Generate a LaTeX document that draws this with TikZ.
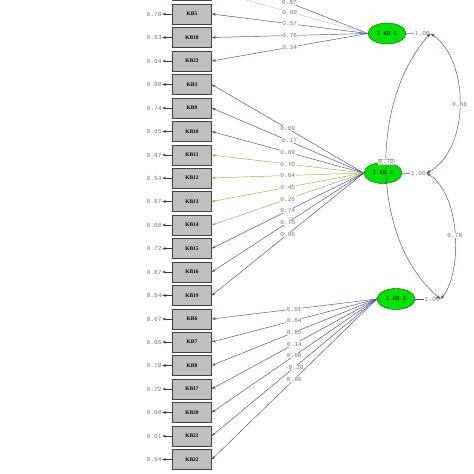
\documentclass[tikz,border=0pt]{standalone}
\usepackage{fontspec}
\usepackage{xcolor}
\usepackage{tikz}
\newfontfamily\valfont{Liberation Mono}
\newfontfamily\boxfont{Liberation Serif}
\usetikzlibrary{arrows.meta, positioning, shapes.geometric}
\definecolor{pathblue}{RGB}{70,70,140}
\definecolor{patholive}{RGB}{165,165,70}
\definecolor{latgreen}{RGB}{0,225,0}

\begin{document}
\begin{tikzpicture}[x=1pt, y=-1pt, every node/.style={inner sep=0.5pt},
  obs/.style={draw=black!75, fill=black!25, rectangle, minimum width=39pt, minimum height=20pt, font=\boxfont\bfseries\fontsize{5.5}{6}\selectfont},
  lat/.style={draw=green!35!black, fill=latgreen, ellipse, minimum width=38pt, minimum height=21pt, inner sep=0pt, font=\valfont\fontsize{5.6}{6}\selectfont},
  val/.style={font=\valfont\fontsize{6.2}{7}\selectfont, text=black!55},
  lbl/.style={val, fill=white, midway},
  load/.style={draw=pathblue, line width=0.45pt, -{Stealth[length=4pt, width=2.6pt]}},
  err/.style={draw=pathblue!70!black, line width=0.6pt, -{Stealth[length=3.5pt, width=2.6pt]}},
  cov/.style={draw=pathblue, line width=0.45pt, {Stealth[length=4.5pt, width=3pt]}-{Stealth[length=4.5pt, width=3pt]}}]
  \useasboundingbox (0,0) rectangle (474,474);
  \clip (0,0) rectangle (474,474);

  % observed variables
  \node[obs] (kbu) at (192,-9.4) {};
  \node[obs] (kb5) at (192,14) {KB5};
  \node[obs] (kb18) at (192,37.5) {KB18};
  \node[obs] (kb23) at (192,61) {KB23};
  \node[obs] (kb3) at (192,84.5) {KB3};
  \node[obs] (kb9) at (192,108) {KB9};
  \node[obs] (kb10) at (192,131.5) {KB10};
  \node[obs] (kb11) at (192,155) {KB11};
  \node[obs] (kb12) at (192,178) {KB12};
  \node[obs] (kb13) at (192,201.5) {KB13};
  \node[obs] (kb14) at (192,225) {KB14};
  \node[obs] (kb15) at (192,248.5) {KB15};
  \node[obs] (kb16) at (192,272) {KB16};
  \node[obs] (kb19) at (192,295.5) {KB19};
  \node[obs] (kb6) at (192,319) {KB6};
  \node[obs] (kb7) at (192,342) {KB7};
  \node[obs] (kb8) at (192,365.5) {KB8};
  \node[obs] (kb17) at (192,389) {KB17};
  \node[obs] (kb20) at (192,412.5) {KB20};
  \node[obs] (kb21) at (192,436) {KB21};
  \node[obs] (kb22) at (192,459.5) {KB22};
  \coordinate (kbv) at (211,-28);

  % error variances
  \node[val, left=10pt of kb5] (e5) {0.78};
  \node[val, left=10pt of kb18] (e18) {0.83};
  \node[val, left=10pt of kb23] (e23) {0.64};
  \node[val, left=10pt of kb3] (e3) {0.80};
  \node[val, left=10pt of kb9] (e9) {0.74};
  \node[val, left=10pt of kb10] (e10) {0.65};
  \node[val, left=10pt of kb11] (e11) {0.47};
  \node[val, left=10pt of kb12] (e12) {0.54};
  \node[val, left=10pt of kb13] (e13) {0.87};
  \node[val, left=10pt of kb14] (e14) {0.60};
  \node[val, left=10pt of kb15] (e15) {0.72};
  \node[val, left=10pt of kb16] (e16) {0.87};
  \node[val, left=10pt of kb19] (e19) {0.54};
  \node[val, left=10pt of kb6] (e6) {0.67};
  \node[val, left=10pt of kb7] (e7) {0.66};
  \node[val, left=10pt of kb8] (e8) {0.78};
  \node[val, left=10pt of kb17] (e17) {0.72};
  \node[val, left=10pt of kb20] (e20) {0.60};
  \node[val, left=10pt of kb21] (e21) {0.61};
  \node[val, left=10pt of kb22] (e22) {0.54};
  \draw[err] (kb5.west) -- (e5.east);
  \draw[err] (kb18.west) -- (e18.east);
  \draw[err] (kb23.west) -- (e23.east);
  \draw[err] (kb3.west) -- (e3.east);
  \draw[err] (kb9.west) -- (e9.east);
  \draw[err] (kb10.west) -- (e10.east);
  \draw[err] (kb11.west) -- (e11.east);
  \draw[err] (kb12.west) -- (e12.east);
  \draw[err] (kb13.west) -- (e13.east);
  \draw[err] (kb14.west) -- (e14.east);
  \draw[err] (kb15.west) -- (e15.east);
  \draw[err] (kb16.west) -- (e16.east);
  \draw[err] (kb19.west) -- (e19.east);
  \draw[err] (kb6.west) -- (e6.east);
  \draw[err] (kb7.west) -- (e7.east);
  \draw[err] (kb8.west) -- (e8.east);
  \draw[err] (kb17.west) -- (e17.east);
  \draw[err] (kb20.west) -- (e20.east);
  \draw[err] (kb21.west) -- (e21.east);
  \draw[err] (kb22.west) -- (e22.east);

  % latent variables
  \node[lat] (ikb1) at (387,33.5) {I KB 1};
  \node[lat, text depth=-3pt] (ikb2) at (383,173) {I KB 2};
  \node[lat] (ikb3) at (396,299) {I KB 3};
  \node[val, right=8pt of ikb1] (v1) {1.00};
  \node[val, right=8pt of ikb2] (v2) {1.00};
  \node[val, right=9pt of ikb3] (v3) {1.00};
  \draw[black!40, line width=0.4pt] (ikb1.east) -- (v1.west);
  \draw[black!40, line width=0.4pt] (ikb2.east) -- (v2.west);
  \draw[pathblue, line width=0.6pt] (ikb3.east) -- (v3.west);

  % loadings
  \draw[load] (ikb1.west) -- node[lbl] {0.87} (kbv);
  \draw[load, draw=black!25] (ikb1.west) -- node[lbl] {0.69} (kbu.east);
  \draw[load] (ikb1.west) -- node[lbl] {0.57} (kb5.east);
  \draw[load] (ikb1.west) -- node[lbl] {0.76} (kb18.east);
  \draw[load] (ikb1.west) -- node[lbl] {0.24} (kb23.east);
  \draw[load] (ikb2.west) -- node[lbl] {0.69} (kb3.east);
  \draw[load] (ikb2.west) -- node[lbl] {-0.17} (kb9.east);
  \draw[load] (ikb2.west) -- node[lbl] {0.69} (kb10.east);
  \draw[load, draw=patholive] (ikb2.west) -- node[lbl] {0.70} (kb11.east);
  \draw[load, draw=patholive] (ikb2.west) -- node[lbl] {0.64} (kb12.east);
  \draw[load, draw=patholive] (ikb2.west) -- node[lbl] {0.45} (kb13.east);
  \draw[load, draw=patholive] (ikb2.west) -- node[lbl] {0.26} (kb14.east);
  \draw[load] (ikb2.west) -- node[lbl] {0.74} (kb15.east);
  \draw[load] (ikb2.west) -- node[lbl] {0.70} (kb16.east);
  \draw[load] (ikb2.west) -- node[lbl] {0.86} (kb19.east);
  \draw[load] (ikb3.west) -- node[lbl] {0.61} (kb6.east);
  \draw[load] (ikb3.west) -- node[lbl] {0.64} (kb7.east);
  \draw[load] (ikb3.west) -- node[lbl] {0.85} (kb8.east);
  \draw[load] (ikb3.west) -- node[lbl] {0.14} (kb17.east);
  \draw[load] (ikb3.west) -- node[lbl] {0.60} (kb20.east);
  \draw[load] (ikb3.west) -- node[lbl] {-0.20} (kb21.east);
  \draw[load] (ikb3.west) -- node[lbl] {0.80} (kb22.east);

  % correlations
  \draw[cov] (v1.east) .. controls (470,60) and (470,150) .. node[lbl] {0.66} (v2.east);
  \draw[cov] (v2.east) .. controls (462,195) and (462,275) .. node[lbl] {0.78} (v3.east);
  \draw[cov] (v1.east) .. controls (370,100) and (370,240) .. node[lbl, pos=0.475, draw=black!20] {0.70} (v3.east);
\end{tikzpicture}
\end{document}
